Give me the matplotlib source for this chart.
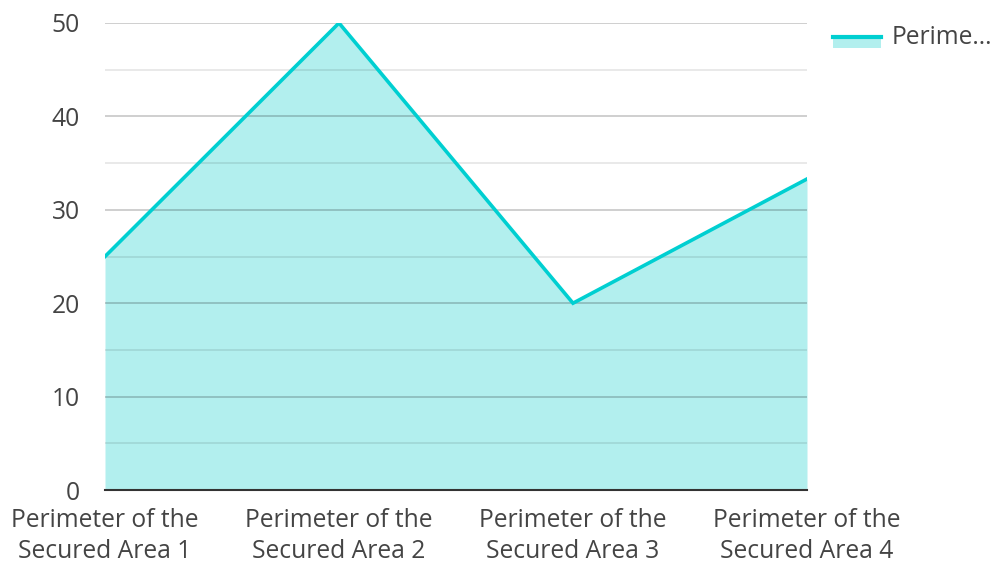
import matplotlib.pyplot as plt
import matplotlib.ticker as ticker
from matplotlib.lines import Line2D
from matplotlib.patches import Rectangle

plt.rcParams['font.family'] = ['Open Sans', 'DejaVu Sans']

# data
categories = ["Perimeter of the\nSecured Area 1", "Perimeter of the\nSecured Area 2",
              "Perimeter of the\nSecured Area 3", "Perimeter of the\nSecured Area 4"]
values = [25, 50, 20, 33.3]
series_name = "Perime..."

line_col = "#00cfd1"
fill_col = "#b2efee"
text_col = "#444444"
fs = 17.7

fig = plt.figure(figsize=(9.94, 5.62), dpi=100)
ax = fig.add_axes([105 / 994, 1 - 490 / 562, 702 / 994, 467 / 562])

xs = list(range(len(categories)))
ax.fill_between(xs, 0, values, color=fill_col, linewidth=0, zorder=1)
ax.plot(xs, values, color=line_col, linewidth=2.6, zorder=3, solid_joinstyle='miter')

ax.set_xlim(0, len(categories) - 1)
ax.set_ylim(0, 50)
ax.set_axisbelow(False)

ax.yaxis.set_major_locator(ticker.MultipleLocator(10))
ax.yaxis.set_minor_locator(ticker.MultipleLocator(5))
ax.grid(which='major', axis='y', color='black', alpha=0.22, linewidth=1.2, zorder=2)
ax.grid(which='minor', axis='y', color='black', alpha=0.1, linewidth=1.2, zorder=2)
ax.grid(False, axis='x')

ax.set_xticks(xs)
ax.set_xticklabels(categories, fontsize=fs, color=text_col, linespacing=1.3)
ax.tick_params(axis='x', length=0, pad=13)
ax.tick_params(axis='y', which='both', length=0, pad=18, labelsize=fs, labelcolor=text_col)

for side in ['top', 'right', 'left']:
    ax.spines[side].set_visible(False)
ax.spines['bottom'].set_color('#333333')
ax.spines['bottom'].set_linewidth(1.5)
ax.spines['bottom'].set_zorder(4)

# legend drawn by hand in figure pixels
W, H = 994, 562
fig.add_artist(Rectangle((833 / W, 1 - 48 / H), 48 / W, 12 / H,
                         transform=fig.transFigure, color=fill_col, linewidth=0))
fig.add_artist(Line2D([833 / W, 881 / W], [1 - 37 / H, 1 - 37 / H],
                      transform=fig.transFigure, color=line_col, linewidth=3))
fig.text(892 / W, 1 - 37 / H, series_name, fontsize=fs, color=text_col, va='center', ha='left')

fig.savefig("out.png", dpi=100)
